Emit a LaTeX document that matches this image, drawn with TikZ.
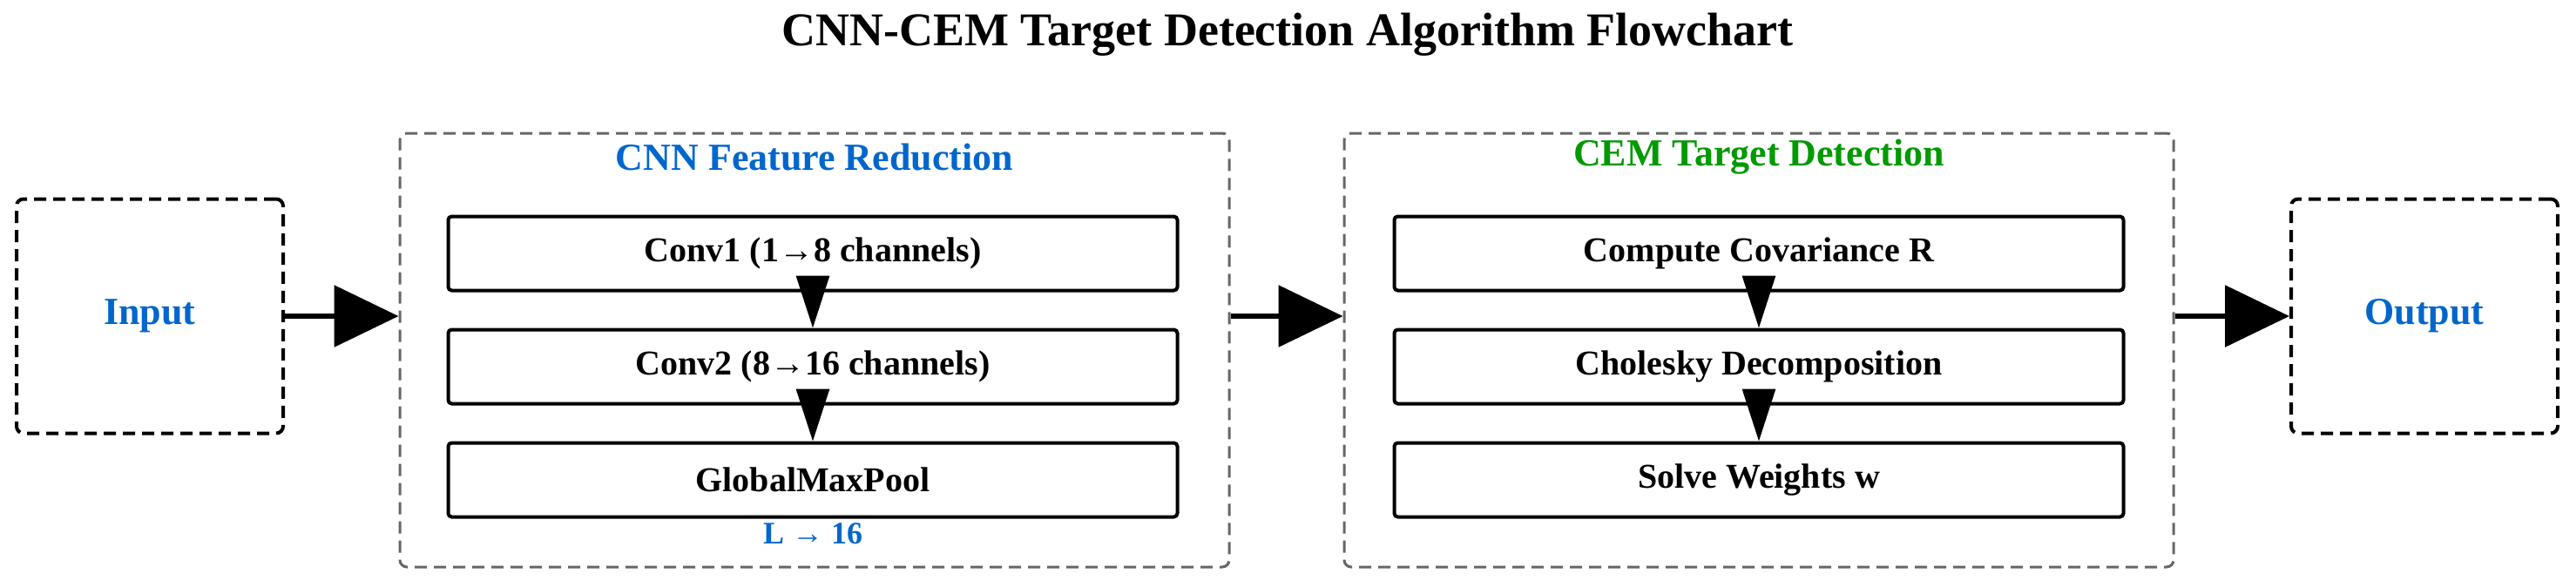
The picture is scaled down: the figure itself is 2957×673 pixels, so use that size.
\documentclass[tikz,border=0pt]{standalone}
\usepackage{fontspec}
\setmainfont{Liberation Serif}
\usetikzlibrary{positioning,arrows.meta}
\definecolor{couleurbleu}{HTML}{0066CC}
\definecolor{couleurvert}{HTML}{009900}
\definecolor{couleurgris}{HTML}{666666}
\tikzset{
		basic/.style={draw, rounded corners=4pt, line width=4pt, minimum width=837pt, minimum height=85pt, font=\fontsize{40}{44}\selectfont\bfseries, anchor=center},
		bout/.style={draw, dashed, dash pattern=on 14pt off 8pt, rounded corners=8pt, line width=4pt, minimum width=306pt, minimum height=269pt, text=couleurbleu, font=\fontsize{44}{48}\selectfont\bfseries},
		cadre/.style={draw=couleurgris, dashed, dash pattern=on 14pt off 8pt, rounded corners=8pt, line width=3pt, minimum width=952pt, minimum height=498pt},
		fleche/.style={line width=6pt, -{Triangle[length=74pt,width=70pt]}},
		flechein/.style={line width=3pt, -{Triangle[length=60pt,width=38pt]}}
	}
\begin{document}
\begin{tikzpicture}[x=1pt,y=-1pt]
		\useasboundingbox (0,0) rectangle (2957,673);
		% titre
		\node[font=\fontsize{54}{58}\selectfont\bfseries](titre) at (1478,40){CNN-CEM Target Detection Algorithm Flowchart};
		% entree et sortie
		\node[bout](input) at (172,363){Input};
		\node[bout](output) at (2783,363){Output};
		% cadres
		\node[cadre](cnn) at (935,402){};
		\node[cadre](cem) at (2019,402){};
		\node[text=couleurbleu, font=\fontsize{44}{48}\selectfont\bfseries](cnntitre) at (935,180){CNN Feature Reduction};
		\node[text=couleurvert, font=\fontsize{44}{48}\selectfont\bfseries](cemtitre) at (2019,180){CEM Target Detection};
		% blocs CNN
		\node[basic](conv1) at (933,291){Conv1 (1→8 channels)};
		\node[basic, below=41pt of conv1](conv2){Conv2 (8→16 channels)};
		\node[basic, below=41pt of conv2](gmp){GlobalMaxPool};
		\node[text=couleurbleu, font=\fontsize{36}{40}\selectfont\bfseries, below=2pt of gmp](dim){L → 16};
		% blocs CEM
		\node[basic](cov) at (2019,291){Compute Covariance R};
		\node[basic, below=41pt of cov](chol){Cholesky Decomposition};
		\node[basic, below=41pt of chol](poids){Solve Weights w};
		% fleches
		\draw[fleche] (input.east) -- (cnn.west |- input.east);
		\draw[fleche] (cnn.east |- input.east) -- (cem.west |- input.east);
		\draw[fleche] (cem.east |- input.east) -- (output.west);
		\draw[flechein] (conv1.south) -- (conv2.north);
		\draw[flechein] (conv2.south) -- (gmp.north);
		\draw[flechein] (cov.south) -- (chol.north);
		\draw[flechein] (chol.south) -- (poids.north);
	\end{tikzpicture}
\end{document}
